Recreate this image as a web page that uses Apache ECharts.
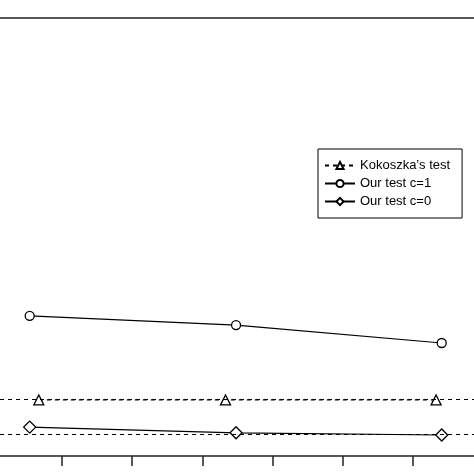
<!DOCTYPE html>
<html>
<head>
<meta charset="utf-8">
<script src="https://cdn.jsdelivr.net/npm/echarts@6/dist/echarts.min.js"></script>
<style>html,body{margin:0;padding:0;background:#fff}#main{width:474px;height:474px}</style>
</head>
<body>
<div id="main"></div>
<script>
// x positions (tick units) and values
var xKok = [0.67, 3.33, 6.33];
var xOur = [0.54, 3.48, 6.41];
var kokoszka = [0.128, 0.128, 0.128];
var ourC1 = [0.320, 0.299, 0.258];
var ourC0 = [0.066, 0.053, 0.048];
var refLine = 0.048;
var xTicks = [1, 2, 3, 4, 5, 6];

var pairs = function(xs, ys){
    var out = [];
    for(var i=0;i<xs.length;i++){ out.push([xs[i], ys[i]]); }
    return out;
};

var myChart = echarts.init(document.getElementById('main'));
var sym = {color:'#fff', borderColor:'#000', borderWidth:1.3};
option = {
    animation: false,
    grid: {left:0, right:0, top:18, bottom:18, show:false},
    xAxis: [
        {type:'value', min:0.117, max:6.87,
         axisLine:{lineStyle:{color:'#222', width:1.5}},
         axisTick:{inside:false, length:10, customValues:xTicks, lineStyle:{color:'#222', width:1.5}},
         axisLabel:{show:false}, splitLine:{show:false}},
        {type:'value', position:'top', min:0.117, max:6.87,
         axisLine:{lineStyle:{color:'#222', width:1.5}},
         axisTick:{show:false}, axisLabel:{show:false}, splitLine:{show:false}}
    ],
    yAxis: {type:'value', min:0, max:1, axisLine:{show:false}, axisTick:{show:false},
        axisLabel:{show:false}, splitLine:{show:false}},
    legend: {
        left:318, top:149, orient:'vertical', itemWidth:30, itemHeight:9, itemGap:5,
        padding:[10,12,10,6], borderColor:'#000', borderWidth:1,
        textStyle:{fontFamily:'Liberation Sans', fontSize:13, color:'#000'},
        data:['Kokoszka\u2019s test','Our test c=1','Our test c=0']
    },
    series: [
        {name:'Kokoszka\u2019s test', type:'line', data:pairs(xKok,kokoszka),
         symbol:'triangle', symbolSize:10, itemStyle:sym,
         lineStyle:{color:'#000', width:1.2, type:[4,4]},
         markLine:{silent:true, symbol:'none', label:{show:false},
            lineStyle:{color:'#000', width:1.2, type:[4,4]}, data:[{yAxis:0.128}]}},
        {name:'Our test c=1', type:'line', data:pairs(xOur,ourC1),
         symbol:'circle', symbolSize:9, itemStyle:sym, lineStyle:{color:'#000', width:1.2}},
        {name:'Our test c=0', type:'line', data:pairs(xOur,ourC0),
         symbol:'diamond', symbolSize:12, itemStyle:sym, lineStyle:{color:'#000', width:1.2},
         markLine:{silent:true, symbol:'none', label:{show:false},
            lineStyle:{color:'#000', width:1.2, type:[4,4]}, data:[{yAxis:refLine}]}}
    ]
};
myChart.setOption(option);
</script>
</body>
</html>
